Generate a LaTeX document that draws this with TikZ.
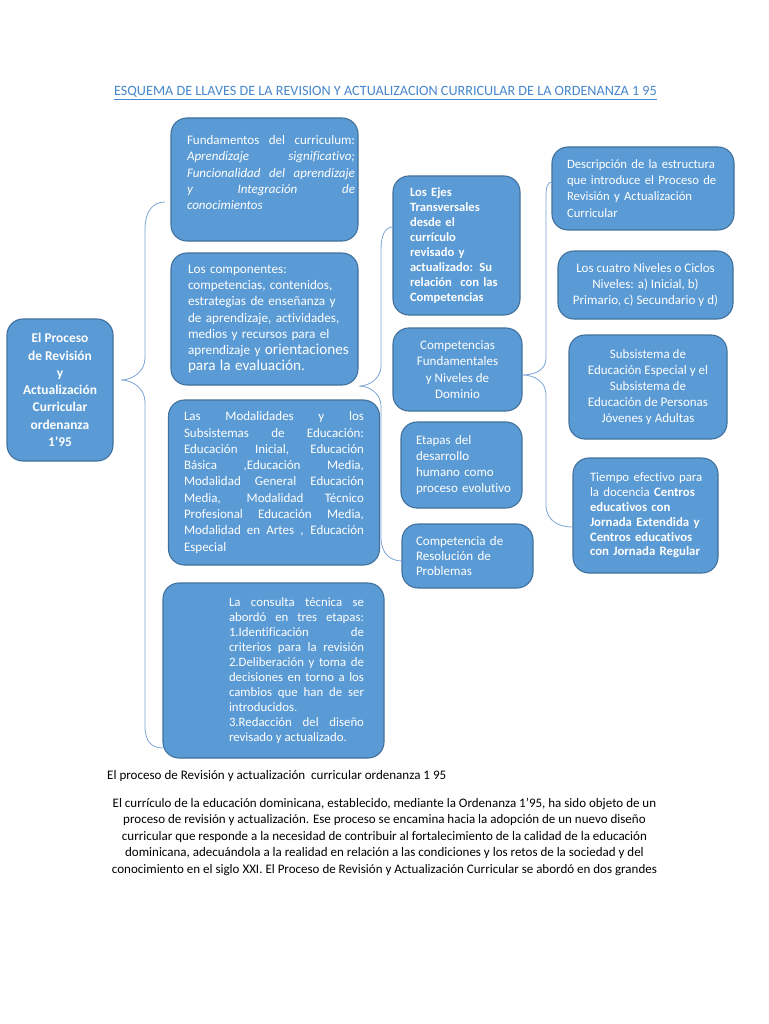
\documentclass[tikz,border=0pt]{standalone}
\usepackage{fontspec}
\setmainfont{Carlito}[Ligatures=NoCommon]
\definecolor{cajaazul}{RGB}{91,155,213}
\definecolor{cajaborde}{RGB}{65,113,156}
\definecolor{llaveazul}{RGB}{120,165,215}
\definecolor{tituloazul}{RGB}{70,135,205}
\tikzset{
  caja/.style={draw=cajaborde, fill=cajaazul, line width=1.1pt, rounded corners=16pt,
    text=white, inner sep=0pt, font=\fontsize{13}{16.3}\selectfont},
  sangria/.style={execute at begin node={\leftskip=#1pt\relax}},
  llave/.style={draw=llaveazul, line width=0.8pt},
}
\begin{document}
\begin{tikzpicture}[x=1pt,y=-1pt]
\useasboundingbox[fill=white] (0,0) rectangle (768,1024);
\node[text=tituloazul,font=\fontsize{14.2}{16}\selectfont] (titulo) at (385.5,93)
  {\underline{ESQUEMA DE LLAVES DE LA REVISION Y ACTUALIZACION CURRICULAR DE LA ORDENANZA 1 95}};

\node[caja,minimum width=106pt,minimum height=142pt,align=center,
  font=\bfseries\fontsize{13.4}{17.3}\selectfont] (proceso) at (60,390)
  {El Proceso\\de Revisión\\y\\Actualización\\Curricular\\ordenanza\\1’95};

\node[caja,minimum width=187pt,minimum height=123pt,text width=181pt,text depth=79pt,align=justify,sangria=13] (fund) at (264.5,179.5)
  {Fundamentos del curriculum:\linebreak \textit{Aprendizaje significativo;\linebreak Funcionalidad del aprendizaje\linebreak y Integración de\linebreak conocimientos}};
\node[caja,minimum width=187pt,minimum height=132pt,text width=181pt,align=left,sangria=14,
  font=\fontsize{13.2}{16.3}\selectfont] (comp) at (264.5,319)
  {Los componentes:\\competencias, contenidos,\\estrategias de enseñanza y\\de aprendizaje, actividades,\\medios y recursos para el\\aprendizaje y {\fontsize{15.2}{16.3}\selectfont orientaciones}\\{\fontsize{15.2}{16.3}\selectfont para la evaluación.}};
\node[caja,minimum width=211pt,minimum height=165pt,text width=180pt,align=justify] (modal) at (274,482.5)
  {Las Modalidades y los\linebreak Subsistemas de Educación:\linebreak Educación Inicial, Educación\linebreak Básica ,Educación Media,\linebreak Modalidad General Educación\linebreak Media, Modalidad Técnico\linebreak Profesional Educación Media,\linebreak Modalidad en Artes , Educación\linebreak Especial};
\node[caja,minimum width=221pt,minimum height=175pt,text width=181pt,align=justify,sangria=46,
  font=\fontsize{12.8}{15}\selectfont] (consulta) at (273.5,670.5)
  {La consulta técnica se\linebreak abordó en tres etapas:\linebreak 1.Identificación de\linebreak criterios para la revisión\linebreak 2.Deliberación y toma de\linebreak decisiones en torno a los\linebreak cambios que han de ser\linebreak introducidos.\\3.Redacción del diseño\linebreak revisado y actualizado.};

\node[caja,minimum width=127pt,minimum height=139pt,text width=121pt,align=left,sangria=14,
  font=\bfseries\fontsize{12.6}{14.9}\selectfont] (ejes) at (456.5,245.5)
  {Los Ejes\\Transversales\\desde el\\currículo\\revisado y\\actualizado: Su\\relación\ \ con las\\Competencias};
\node[caja,minimum width=129pt,minimum height=83pt,align=center] (compfund) at (457.5,369.5)
  {Competencias\\Fundamentales\\y Niveles de\\Dominio};
\node[caja,minimum width=121pt,minimum height=86pt,text width=115pt,align=left,sangria=12,
  font=\fontsize{13}{15.7}\selectfont] (etapas) at (461.5,465)
  {Etapas del\\desarrollo\\humano como\\proceso evolutivo};
\node[caja,minimum width=131pt,minimum height=64pt,text width=125pt,align=left,sangria=11,
  font=\fontsize{13}{15}\selectfont] (resol) at (467.5,556)
  {Competencia de\\Resolución de\\Problemas};

\node[caja,minimum width=182pt,minimum height=83pt,text width=176pt,align=left,sangria=12,
  font=\fontsize{12.7}{16.2}\selectfont] (desc) at (643,188.5)
  {Descripción de la estructura\\que introduce el Proceso de\\Revisión y Actualización\\Curricular};
\node[caja,minimum width=175pt,minimum height=68pt,align=center] (niveles) at (645.5,285)
  {Los cuatro Niveles o Ciclos\\Niveles: a) Inicial, b)\\Primario, c) Secundario y d)};
\node[caja,minimum width=158pt,minimum height=104pt,align=center,font=\fontsize{13}{16}\selectfont] (subsis) at (648,387)
  {Subsistema de\\Educación Especial y el\\Subsistema de\\Educación de Personas\\Jóvenes y Adultas};
\node[caja,minimum width=145pt,minimum height=115pt,text width=139pt,align=left,sangria=14,
  font=\fontsize{12.8}{14.8}\selectfont] (tiempo) at (645.5,515.5)
  {Tiempo efectivo para\\la docencia \textbf{Centros}\\\textbf{educativos con}\\\textbf{Jornada Extendida y}\\\textbf{Centros educativos}\\\textbf{con Jornada Regular}};

\coordinate (ll1a) at (165,202);
\coordinate (ll1p) at (121,380);
\coordinate (ll1b) at (163,748);
\draw[llave] (ll1a) .. controls (152,202) and (145,212) .. (145,230) -- (145,358)
  .. controls (145,372) and (132,380) .. (ll1p) .. controls (132,380) and (145,388) .. (145,402)
  -- (145,726) .. controls (145,742) and (152,748) .. (ll1b);
\coordinate (ll2a) at (393,227);
\coordinate (ll2p) at (359,386);
\coordinate (ll2b) at (402,561);
\draw[llave] (ll2a) .. controls (385,227) and (381,235) .. (381,250) -- (381,366)
  .. controls (381,378) and (370,386) .. (ll2p) .. controls (370,386) and (381,394) .. (381,406)
  -- (381,538) .. controls (381,553) and (390,561) .. (ll2b);
\coordinate (ll3a) at (552,182);
\coordinate (ll3p) at (522,375);
\coordinate (ll3b) at (572,527);
\draw[llave] (ll3a) .. controls (548,182) and (546,186) .. (546,196) -- (546,358)
  .. controls (546,370) and (535,375) .. (ll3p) .. controls (535,375) and (546,382) .. (546,395)
  -- (546,505) .. controls (546,520) and (558,527) .. (ll3b);

\node[anchor=west,inner sep=0pt,font=\fontsize{13.05}{16}\selectfont] (encabezado) at (107,776)
  {El proceso de Revisión y actualización\ \ curricular ordenanza 1 95};
\node[align=center,font=\fontsize{13}{16.5}\selectfont] (parrafo) at (384.5,837)
  {El currículo de la educación dominicana, establecido, mediante la Ordenanza 1’95, ha sido objeto de un\\
   proceso de revisión y actualización. Ese proceso se encamina hacia la adopción de un nuevo diseño\\
   curricular que responde a la necesidad de contribuir al fortalecimiento de la calidad de la educación\\
   dominicana, adecuándola a la realidad en relación a las condiciones y los retos de la sociedad y del\\
   conocimiento en el siglo XXI. El Proceso de Revisión y Actualización Curricular se abordó en dos grandes};
\end{tikzpicture}
\end{document}
